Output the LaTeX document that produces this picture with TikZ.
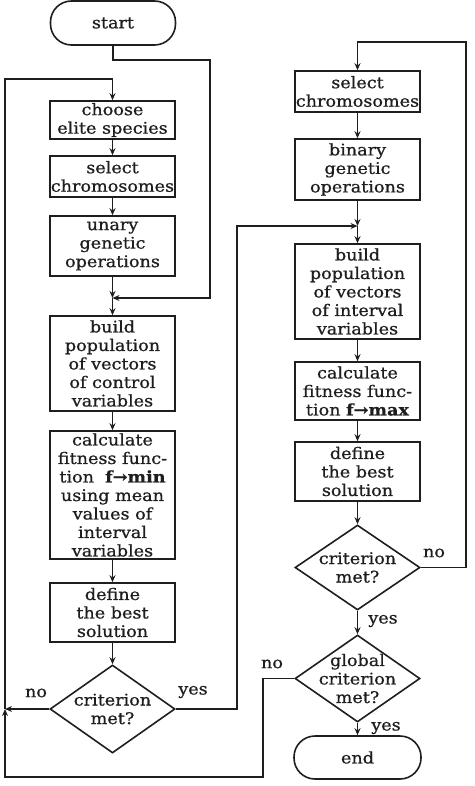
\documentclass[tikz,border=0pt]{standalone}
\usepackage{fontspec}
\setmainfont{DejaVu Serif}[FakeStretch=1.1,FakeBold=0.8]
\usetikzlibrary{arrows.meta,shapes.geometric}
\definecolor{ink}{HTML}{1E1E1E}
\newcommand{\fminline}{\mbox{tion}\ \ \textbf{f→min}}
\newcommand{\fmaxline}{\mbox{tion}\ \textbf{f→max}}
\tikzset{
  txtfont/.style={font=\fontsize{16}{18.5}\selectfont},
  box/.style={draw=ink,line width=1.6pt,rectangle,minimum width=125pt,inner sep=0pt,align=center,text=ink,txtfont},
  term/.style={box,rounded corners=21pt},
  dia/.style={draw=ink,line width=1.6pt,diamond,minimum width=125pt,inner sep=0pt},
  dtext/.style={align=center,text=ink,txtfont,inner sep=0pt},
  lbl/.style={text=ink,txtfont,inner sep=0pt},
  conn/.style={draw=ink,line width=1.4pt},
  arr/.style={conn,-{Stealth[length=7pt,width=6pt]}},
}
\begin{document}
\begin{tikzpicture}[x=1pt,y=-1pt]
\useasboundingbox (0,0) rectangle (474,786);
% left column
\node[term,minimum height=44pt] (start) at (113,23) {start};
\node[box,minimum height=38pt] (elite) at (112.5,120) {choose\\elite species};
\node[box,minimum height=41pt] (sel1) at (112.5,176.5) {select\\chromosomes};
\node[box,minimum height=60pt] (unary) at (112.5,246) {unary\\genetic\\operations};
\coordinate (j1) at (112.5,298);
\node[box,minimum height=95pt] (build1) at (112.5,363.5) {build\\population\\of vectors\\of control\\variables};
\node[box,minimum height=128pt] (calc1) at (112.5,495) {calculate\\\mbox{fitness func-}\\\fminline\\using mean\\values of\\interval\\variables};
\node[box,minimum height=59pt] (def1) at (112.5,612.5) {define\\the best\\solution};
\node[dia,minimum height=88pt] (d1) at (112.5,709) {};
\node[dtext] (d1t) at (d1) {criterion\\met?};
\coordinate (j3) at (5,709);
% right column
\node[box,minimum height=41pt] (sel2) at (357.5,91.5) {select\\chromosomes};
\node[box,minimum height=61pt] (bin) at (357.5,169.5) {binary\\genetic\\operations};
\coordinate (j2) at (357.5,226);
\node[box,minimum height=95pt] (build2) at (357.5,291.5) {build\\population\\of vectors\\of interval\\variables};
\node[box,minimum height=58pt] (calc2) at (357.5,391) {calculate\\\mbox{fitness func-}\\\fmaxline};
\node[box,minimum height=59pt] (def2) at (357.5,471.5) {define\\the best\\solution};
\node[dia,minimum height=85pt] (d2) at (357.5,567.5) {};
\node[dtext] (d2t) at (d2) {criterion\\met?};
\node[dia,minimum height=87pt] (d3) at (357.5,678.5) {};
\node[dtext] (d3t) at (d3) {global\\criterion\\met?};
\node[term,minimum height=43pt,minimum width=127pt] (end) at (357.5,757.5) {end};
% connectors left
\draw[arr] (start.south) -- (113,60) -- (210,60) -- (210,298) -- (j1);
\draw[arr] (elite) -- (sel1);
\draw[arr] (sel1) -- (unary);
\draw[arr] (unary) -- (j1);
\draw[arr] (j1) -- (build1);
\draw[arr] (build1) -- (calc1);
\draw[arr] (calc1) -- (def1);
\draw[arr] (def1) -- (d1);
\draw[arr] (d1.west) -- (j3);
\draw[arr] (d3.west) -- (263,678.5) -- (263,777) -- (5,777) -- (j3);
\draw[arr] (j3) -- (5,79) -- (112.5,79) -- (elite);
\draw[arr] (d1.east) -- (237,709) -- (237,226) -- (j2);
% connectors right
\draw[arr] (sel2) -- (bin);
\draw[arr] (bin) -- (j2);
\draw[arr] (j2) -- (build2);
\draw[arr] (build2) -- (calc2);
\draw[arr] (calc2) -- (def2);
\draw[arr] (def2) -- (d2);
\draw[arr] (d2) -- (d3);
\draw[arr] (d3) -- (end);
\draw[arr] (d2.east) -- (466,567.5) -- (466,42) -- (357.5,42) -- (sel2);
% labels
\node[lbl] (no1) at (36,693) {no};
\node[lbl] (yes1) at (193,692) {yes};
\node[lbl] (no2) at (434,553) {no};
\node[lbl] (yes2) at (383,621) {yes};
\node[lbl] (no3) at (272,664) {no};
\node[lbl] (yes3) at (386,728) {yes};
\end{tikzpicture}
\end{document}
